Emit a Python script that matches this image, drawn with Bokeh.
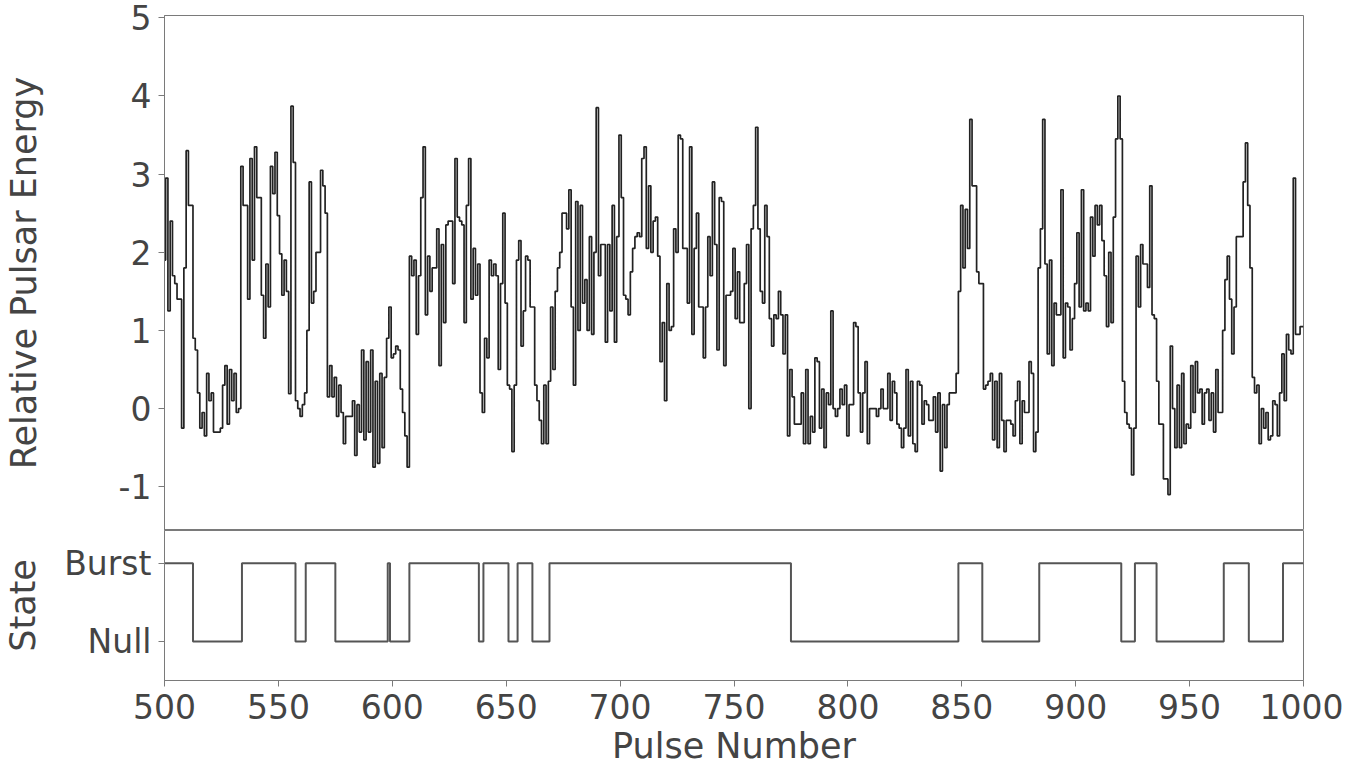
from bokeh.plotting import figure
from bokeh.layouts import column
from bokeh.models import Range1d, FixedTicker
from bokeh.embed import file_html
from bokeh.resources import INLINE

# relative pulsar energy, one value per pulse (500 .. 1000)
energy = [
    1.9, 2.95, 1.25, 2.4, 1.7, 1.6, 1.4, 1.4, -0.25, 1.8,
    3.3, 2.6, 2.6, 0.9, 0.75, 0.2, -0.25, -0.05, -0.35, 0.45,
    0.1, 0.2, -0.3, -0.3, -0.3, -0.25, 0.3, 0.55, -0.2, 0.5,
    0.1, 0.45, -0.05, 0.0, 3.1, 2.6, 2.6, 1.4, 3.2, 1.9,
    3.35, 2.7, 2.7, 1.45, 0.9, 1.85, 1.3, 3.1, 2.75, 3.28,
    2.47, 1.98, 1.45, 1.9, 1.5, 0.19, 3.87, 3.15, 0.1, 0.0,
    -0.1, 0.05, 0.2, 1.0, 2.9, 1.35, 1.5, 2.0, 2.0, 3.05,
    2.85, 2.5, 0.15, 0.55, 0.15, 0.4, -0.1, 0.3, -0.05, -0.45,
    -0.1, -0.1, -0.1, 0.1, -0.6, 0.05, -0.3, 0.75, -0.4, 0.6,
    -0.3, 0.75, -0.75, 0.35, -0.7, 0.45, -0.5, 0.4, 0.9, 1.3,
    0.65, 0.7, 0.8, 0.75, 0.25, -0.05, -0.35, -0.75, 1.95, 1.7,
    1.9, 0.95, 1.7, 2.7, 3.35, 1.2, 1.95, 1.5, 1.8, 1.8,
    2.3, 0.55, 2.1, 1.1, 2.35, 2.4, 2.4, 1.6, 3.2, 2.45,
    2.4, 2.35, 1.1, 2.6, 3.2, 1.4, 2.05, 1.45, 1.85, 0.2,
    -0.05, 0.9, 0.65, 1.9, 1.7, 1.85, 1.7, 0.5, 1.6, 2.5,
    1.35, 0.3, 0.25, -0.55, 0.3, 1.9, 2.15, 0.8, 1.25, 1.95,
    1.9, 1.3, 1.3, 0.3, 0.1, -0.15, -0.45, 0.3, -0.45, 0.35,
    1.3, 0.5, 1.5, 1.8, 2.0, 2.5, 2.5, 2.3, 2.8, 1.3,
    0.3, 2.65, 1.0, 2.6, 1.35, 1.65, 1.0, 2.2, 0.95, 2.0,
    3.85, 1.7, 2.1, 2.1, 0.85, 2.1, 1.25, 2.6, 0.85, 2.2,
    3.5, 2.7, 1.45, 1.4, 1.2, 1.75, 2.05, 2.2, 2.25, 2.2,
    3.2, 3.35, 2.05, 2.85, 2.0, 2.4, 2.45, 1.95, 0.6, 1.1,
    0.1, 1.6, 1.0, 1.05, 2.3, 2.0, 3.5, 3.45, 2.05, 2.05,
    1.35, 3.35, 0.95, 2.05, 2.5, 1.3, 1.3, 0.65, 1.3, 2.2,
    1.7, 2.9, 2.1, 0.75, 2.7, 2.65, 0.55, 1.45, 1.45, 1.5,
    2.05, 1.15, 1.75, 1.1, 1.1, 1.6, 2.1, 0.0, 2.3, 2.6,
    3.6, 2.3, 1.5, 1.35, 2.6, 2.2, 1.15, 0.8, 1.2, 1.15,
    1.5, 1.2, 0.7, 1.2, -0.35, 0.5, 0.15, -0.2, -0.2, -0.2,
    0.2, -0.45, 0.5, -0.45, -0.1, -0.3, 0.65, 0.6, -0.25, 0.25,
    -0.5, 0.2, 0.05, 1.25, 0.0, -0.1, 0.0, 0.25, 0.05, 0.3,
    -0.35, 0.05, 0.05, 1.1, 1.05, 0.2, -0.3, 0.2, 0.6, -0.45,
    0.0, 0.0, 0.0, -0.1, 0.0, 0.25, 0.0, 0.0, 0.45, -0.15,
    0.35, 0.2, -0.2, -0.25, -0.5, -0.25, 0.5, -0.35, 0.35, -0.45,
    -0.55, 0.35, 0.3, -0.2, 0.1, 0.05, -0.15, -0.15, 0.15, -0.3,
    0.2, -0.8, 0.05, -0.5, 0.05, 0.2, 0.2, 0.2, 0.45, 1.5,
    2.6, 1.8, 2.55, 2.05, 3.7, 2.85, 2.85, 1.75, 1.6, 1.6,
    0.25, 0.3, 0.35, 0.45, -0.4, 0.35, -0.5, 0.45, -0.15, -0.55,
    -0.15, -0.15, -0.2, -0.35, 0.1, 0.35, -0.45, 0.1, -0.05, -0.05,
    0.6, 0.45, -0.55, -0.3, 1.8, 2.3, 3.7, 1.85, 0.7, 1.9,
    0.55, 1.35, 1.2, 1.2, 2.8, 0.65, 1.35, 1.3, 0.75, 1.15,
    1.6, 2.25, 1.3, 2.8, 1.25, 1.35, 1.25, 2.45, 1.95, 2.6,
    2.35, 2.6, 2.15, 1.7, 1.05, 2.0, 1.1, 2.45, 3.45, 4.0,
    3.45, 0.35, -0.05, -0.2, -0.25, -0.85, -0.25, 1.95, 1.3, 2.1,
    1.85, 1.85, 1.55, 2.85, 1.2, 1.15, 0.35, -0.2, -0.2, -0.9,
    -0.9, -1.1, 0.8, 0.0, -0.5, 0.3, -0.5, 0.45, -0.45, -0.2,
    -0.25, 0.55, -0.05, 0.6, 0.2, 0.25, -0.2, 0.2, 0.25, -0.15,
    0.2, -0.3, 0.5, -0.05, -0.05, 1.0, 1.65, 1.95, 1.4, 0.7,
    1.3, 2.2, 2.2, 2.2, 2.9, 3.4, 2.6, 1.8, 0.4, 0.2,
    0.3, -0.45, 0.0, -0.25, -0.05, -0.4, -0.35, 0.1, 0.05, -0.35,
    0.2, 0.7, 0.1, 0.95, 0.75, 0.7, 2.95, 0.95, 0.95, 1.05,
    1.05,
]
pulse = list(range(500, 500 + len(energy)))

# burst / null state: pulse where each state starts, and the state (1 = Burst, 0 = Null)
state_start = [500, 512.5, 534, 557.5, 562, 575, 598, 599, 607.5, 638, 640, 651, 655,
               661.5, 669, 775, 848.5, 859, 884, 920, 926, 935.5, 965, 976, 991, 1000]
state_value = [1, 0, 1, 0, 1, 0, 1, 0, 1, 0, 1, 0, 1,
               0, 1, 0, 1, 0, 1, 0, 1, 0, 1, 0, 1, 1]

energy_ticks = [-1, 0, 1, 2, 3, 4, 5]
energy_names = {-1: "-1"}
pulse_ticks = [500, 550, 600, 650, 700, 750, 800, 850, 900, 950, 1000]
state_ticks = [0, 1]
state_names = {0: "Null", 1: "Burst"}

FONT = "DejaVu Sans"
TXT = "#444444"
EDGE = "#7a7a7a"


def style_axis(ax, label_size="35px", tick_size="33px"):
    ax.axis_label_text_font = FONT
    ax.axis_label_text_font_size = label_size
    ax.axis_label_text_font_style = "normal"
    ax.axis_label_text_color = TXT
    ax.major_label_text_font = FONT
    ax.major_label_text_font_size = tick_size
    ax.major_label_text_color = TXT
    ax.axis_line_color = EDGE
    ax.major_tick_line_color = EDGE
    ax.major_tick_out = 6
    ax.major_tick_in = 0
    ax.minor_tick_line_color = None
    ax.major_label_standoff = 7


xr = Range1d(500, 1000)

# energy panel
p1 = figure(frame_width=1139, frame_height=515, x_range=xr, y_range=Range1d(-1.56, 5.03),
            output_backend="svg", toolbar_location=None,
            min_border_left=163, min_border_right=40, min_border_top=15, min_border_bottom=0)
p1.step(pulse, energy, mode="center", line_color="#222222", line_width=1.7)
p1.xaxis.visible = False
p1.yaxis.ticker = FixedTicker(ticks=energy_ticks)
p1.yaxis.major_label_overrides = energy_names
p1.yaxis.axis_label = "Relative Pulsar Energy"
style_axis(p1.yaxis[0])
p1.yaxis.axis_label_standoff = 72
p1.grid.visible = False
p1.outline_line_color = EDGE

# state panel
p2 = figure(frame_width=1139, frame_height=150, x_range=xr, y_range=Range1d(-0.5, 1.42),
            output_backend="svg", toolbar_location=None,
            min_border_left=163, min_border_right=40, min_border_top=0, min_border_bottom=0)
p2.step(state_start, state_value, mode="after", line_color="#555555", line_width=2)
p2.xaxis.ticker = FixedTicker(ticks=pulse_ticks)
p2.xaxis.axis_label = "Pulse Number"
style_axis(p2.xaxis[0])
p2.xaxis.axis_label_standoff = 4
p2.yaxis.ticker = FixedTicker(ticks=state_ticks)
p2.yaxis.major_label_overrides = state_names
p2.yaxis.axis_label = "State"
style_axis(p2.yaxis[0])
p2.yaxis.axis_label_standoff = 18
p2.grid.visible = False
p2.outline_line_color = EDGE

layout = column(p1, p2)

open("out.html", "w").write(file_html(layout, INLINE))
